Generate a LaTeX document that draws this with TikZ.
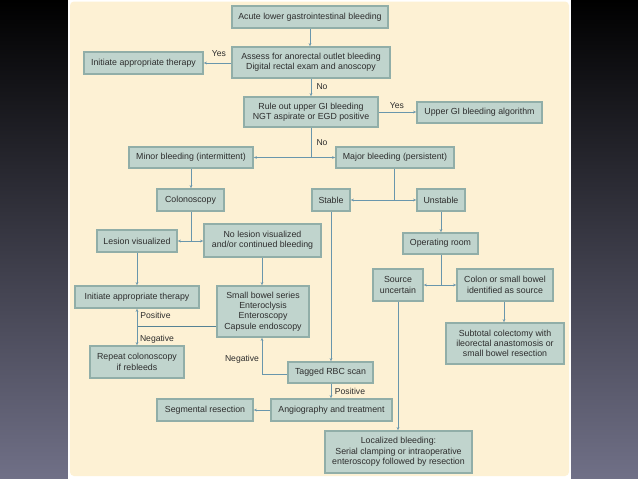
\documentclass[tikz,border=0pt]{standalone}
\usepackage{fontspec}
\setmainfont{Liberation Sans}
\usetikzlibrary{arrows.meta}
\definecolor{bgtop}{RGB}{0,0,0}
\definecolor{bgmid}{RGB}{40,40,72}
\definecolor{bgbot}{RGB}{112,112,135}
\definecolor{cream}{RGB}{253,241,212}
\definecolor{boxfill}{RGB}{192,212,205}
\definecolor{boxedge}{RGB}{145,174,168}
\definecolor{txt}{RGB}{45,45,45}
\definecolor{arr}{RGB}{105,150,172}
\definecolor{arrdark}{RGB}{85,130,148}
\tikzset{
  fbox/.style={draw=boxedge, fill=boxfill, line width=1.4pt, inner sep=0pt,
    align=center, text=txt, font=\fontsize{8.8}{10.3}\selectfont},
  conn/.style={draw=arr, line width=0.8pt},
  arrw/.style={conn, -{Stealth[length=3.2pt,width=2.6pt]}},
  lbl/.style={text=txt, font=\fontsize{8.6}{10}\selectfont, inner sep=0pt}
}
\begin{document}
\begin{tikzpicture}[x=1pt,y=-1pt]
\useasboundingbox (0,0) rectangle (638,479);
\shade[top color=bgtop, middle color=bgmid, bottom color=bgbot] (0,0) rectangle (638,479);
\fill[white] (68,0) rectangle (571,479);
\fill[cream, rounded corners=4pt] (70,1.5) rectangle (569,476);

% boxes
\node[fbox, minimum width=156, minimum height=22] (acute) at (310,17) {Acute lower gastrointestinal bleeding};
\node[fbox, minimum width=158, minimum height=31] (assess) at (311,62.5) {Assess for anorectal outlet bleeding\\Digital rectal exam and anoscopy};
\node[fbox, minimum width=119, minimum height=22] (init1) at (143.5,63) {Initiate appropriate therapy};
\node[fbox, minimum width=134, minimum height=30] (rule) at (311,112) {Rule out upper GI bleeding\\NGT aspirate or EGD positive};
\node[fbox, minimum width=125, minimum height=21] (upper) at (479.5,112.5) {Upper GI bleeding algorithm};
\node[fbox, minimum width=124, minimum height=21] (minor) at (191,157.5) {Minor bleeding (intermittent)};
\node[fbox, minimum width=118, minimum height=21] (major) at (395,157.5) {Major bleeding (persistent)};
\node[fbox, minimum width=67, minimum height=22] (colon) at (190.5,200) {Colonoscopy};
\node[fbox, minimum width=38, minimum height=22] (stable) at (331,200) {Stable};
\node[fbox, minimum width=48, minimum height=22] (unstable) at (441,200) {Unstable};
\node[fbox, minimum width=80, minimum height=22] (lesion) at (137,241) {Lesion visualized};
\node[fbox, minimum width=117, minimum height=33] (nolesion) at (262.5,240.5) {No lesion visualized\\and/or continued bleeding};
\node[fbox, minimum width=75, minimum height=21] (oproom) at (440.5,243.5) {Operating room};
\node[fbox, minimum width=50, minimum height=32] (srcunc) at (398,285) {Source\\uncertain};
\node[fbox, minimum width=96, minimum height=32] (colonsb) at (505,285) {Colon or small bowel\\identified as source};
\node[fbox, minimum width=124, minimum height=22] (init2) at (137,297) {Initiate appropriate therapy};
\node[fbox, minimum width=92, minimum height=51] (smallb) at (263,311.5) {Small bowel series\\Enteroclysis\\Enteroscopy\\Capsule endoscopy};
\node[fbox, minimum width=94, minimum height=32] (repeat) at (137,362) {Repeat colonoscopy\\if rebleeds};
\node[fbox, minimum width=118, minimum height=41] (subtotal) at (505,343.5) {Subtotal colectomy with\\ileorectal anastomosis or\\small bowel resection};
\node[fbox, minimum width=85, minimum height=21] (tagged) at (330.5,372.5) {Tagged RBC scan};
\node[fbox, minimum width=121, minimum height=22] (angio) at (331.5,410) {Angiography and treatment};
\node[fbox, minimum width=96, minimum height=22] (segm) at (205,410) {Segmental resection};
\node[fbox, minimum width=147, minimum height=42] (local) at (398.5,452) {Localized bleeding:\\Serial clamping or intraoperative\\enteroscopy followed by resection};

% junctions
\coordinate (j1) at (311,157.5);
\coordinate (j2) at (394,200);
\coordinate (j3) at (191,241);
\coordinate (j4) at (441,285);
\coordinate (j5) at (137,326);
\coordinate (j6) at (262,374);
\coordinate (ya) at (0,63);
\coordinate (yr) at (0,112);
\coordinate (yg) at (0,410);

% connectors
\draw[arrw] (acute.south -| 310,0) -- (assess.north -| 310,0);
\draw[arrw] (assess.west |- ya) -- (init1.east |- ya);
\node[lbl] (yes1) at (219,54) {Yes};
\draw[arrw] (assess.south -| 311,0) -- (rule.north -| 311,0);
\node[lbl] (no1) at (322,87) {No};
\draw[arrw] (rule.east |- yr) -- (upper.west |- yr);
\node[lbl] (yes2) at (397,105.5) {Yes};
\draw[conn] (rule.south -| j1) -- (j1);
\node[lbl] (no2) at (322,143) {No};
\draw[arrw] (j1) -- (minor.east |- j1);
\draw[arrw] (j1) -- (major.west |- j1);
\draw[arrw] (minor.south -| 191,0) -- (colon.north -| 191,0);
\draw[conn] (major.south -| j2) -- (j2);
\draw[arrw] (j2) -- (stable.east |- j2);
\draw[arrw] (j2) -- (unstable.west |- j2);
\draw[conn] (colon.south -| j3) -- (j3);
\draw[arrw] (j3) -- (lesion.east |- j3);
\draw[arrw] (j3) -- (nolesion.west |- j3);
\draw[arrw] (lesion.south) -- (init2.north);
\draw[arrw] (nolesion.south -| 262,0) -- (smallb.north -| 262,0);
\draw[arrw] (unstable.south) -- (oproom.north -| unstable.south);
\draw[conn] (oproom.south -| j4) -- (j4);
\draw[arrw] (j4) -- (srcunc.east |- j4);
\draw[arrw] (j4) -- (colonsb.west |- j4);
\draw[arrw] (colonsb.south -| 504,0) -- (subtotal.north -| 504,0);
\draw[arrw] (srcunc.south) -- (local.north -| srcunc.south);
\draw[arrw] (stable.south) -- (tagged.north -| stable.south);
\draw[arrw] (tagged.south -| 331,0) -- (angio.north -| 331,0);
\node[lbl] (pos2) at (350,391) {Positive};
\draw[arrw] (angio.west |- yg) -- (segm.east |- yg);
\draw[conn] (tagged.west |- j6) -- (j6);
\draw[arrw] (j6) -- (smallb.south -| j6);
\node[lbl] (neg2) at (242,359) {Negative};
\draw[draw=arrdark, line width=1pt] (smallb.west |- j5) -- (j5);
\draw[arrw] (j5) -- (init2.south);
\draw[arrw] (j5) -- (repeat.north);
\node[lbl] (pos1) at (155.5,315) {Positive};
\node[lbl] (neg1) at (157,339) {Negative};
\end{tikzpicture}
\end{document}
